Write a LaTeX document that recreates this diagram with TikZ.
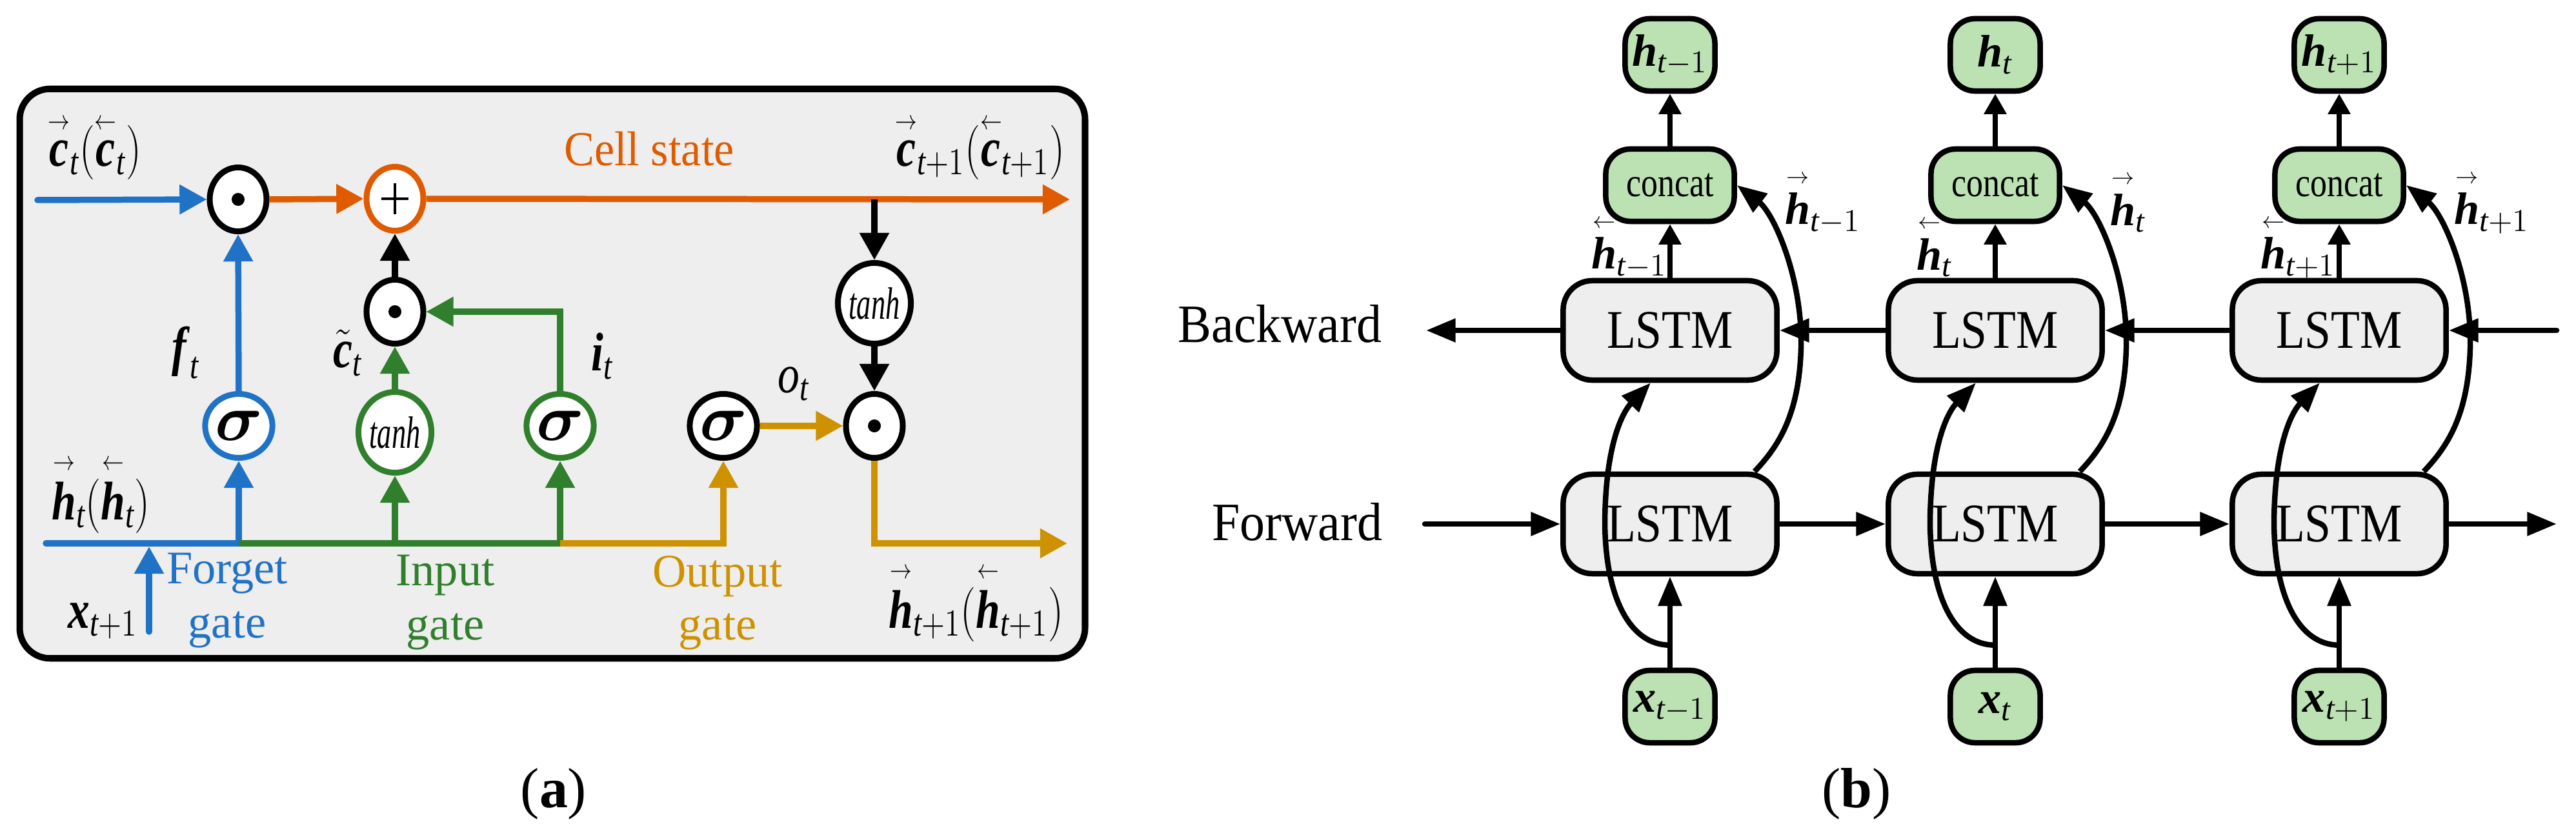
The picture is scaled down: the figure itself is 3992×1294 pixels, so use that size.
\RequirePackage{fix-cm}
\documentclass[tikz,border=0pt]{standalone}
\usepackage{amsmath}
\usepackage{fontspec}
\setmainfont{Liberation Serif}
\usetikzlibrary{arrows.meta,shapes.geometric,calc}
\definecolor{cblue}{HTML}{2072C6}
\definecolor{corange}{HTML}{E05B00}
\definecolor{cgreen}{HTML}{2F7F2C}
\definecolor{cgold}{HTML}{CE9200}
\definecolor{cgray}{HTML}{EEEEEE}
\definecolor{cgreenf}{HTML}{BCE2B4}
\newcommand{\ti}[1]{\textit{#1}}
\newcommand{\bi}[1]{\textbf{\textit{#1}}}
\newcommand{\rv}[1]{\overset{\scriptscriptstyle\rightarrow}{#1}}
\newcommand{\lv}[1]{\overset{\scriptscriptstyle\leftarrow}{#1}}
\newcommand{\nar}[1]{\scalebox{0.8}[1]{#1}}
\newcommand{\sig}{{\fontsize{29}{31}\selectfont$\boldsymbol{\sigma}$}}
\newcommand{\tanhtxt}{\scalebox{0.63}[1]{\fontsize{20}{24}\selectfont\textit{tanh}}}
\tikzset{
  ln/.style={line width=2.7pt},
  arrA/.style={-{Triangle[length=12pt,width=12.5pt]}},
  gnode/.style={ellipse, draw, line width=2.56pt, fill=white, minimum width=0.88cm, minimum height=0.99cm, inner sep=0pt},
  tnode/.style={gnode, minimum width=1.13cm, minimum height=1.25cm},
  lbl/.style={font=\fontsize{24}{29}\selectfont, inner sep=0pt},
  gatelbl/.style={font=\fontsize{20.6}{24}\selectfont, inner sep=0pt},
  bl/.style={line width=2.42pt},
  arrB/.style={-{Triangle[length=13pt,width=10pt]}},
  arrS/.style={-{Triangle[length=9pt,width=9.5pt]}},
  lstm/.style={draw, line width=2.42pt, fill=cgray, rounded corners=0.45cm, minimum width=3.31cm, minimum height=1.54cm, font=\fontsize{24}{28}\selectfont, inner sep=0pt},
  gbox/.style={draw, line width=2.42pt, fill=cgreenf, rounded corners=0.38cm, minimum width=1.39cm, minimum height=1.12cm, inner sep=0pt, font=\fontsize{20}{24}\selectfont},
  cbox/.style={gbox, minimum width=1.99cm, font=\fontsize{18}{22}\selectfont},
  blbl/.style={font=\fontsize{20}{24}\selectfont, inner sep=0pt},
}
\begin{document}
\begin{tikzpicture}[x=0.01cm,y=-0.01cm]
\useasboundingbox (0,0) rectangle (3992,1294);

% ---------------- (a) ----------------
\node[draw, line width=2.85pt, fill=cgray, rounded corners=0.47cm, minimum width=16.5cm, minimum height=8.82cm, inner sep=0pt] (cell) at (856,579) {};

\node[gnode] (cf) at (369,309) {};
\node[gnode, draw=corange] (pl) at (612,308) {};
\node[gnode] (ci) at (612,483) {};
\node[gnode, draw=cblue] (sf) at (370,660) {\sig};
\node[tnode, draw=cgreen] (tg) at (612,670) {\tanhtxt};
\node[gnode, draw=cgreen] (si) at (868,660) {\sig};
\node[gnode] (so) at (1121,660) {\sig};
\node[gnode] (co) at (1355,660) {};
\node[tnode] (tc) at (1355,470) {\tanhtxt};

\fill (cf) circle[radius=0.1cm];
\fill (ci) circle[radius=0.1cm];
\fill (co) circle[radius=0.1cm];
\draw[line width=1.4pt] ($(pl)+(-21,0)$) -- ($(pl)+(21,0)$);
\draw[line width=1.4pt] ($(pl)+(0,-24)$) -- ($(pl)+(0,24)$);

\coordinate (cin) at (58,310);
\coordinate (cout) at (1658,309);
\coordinate (hin) at (71,842);
\coordinate (jf) at (370,842);
\coordinate (ji) at (868,842);
\coordinate (hout) at (1654,842);
\coordinate (xin) at (231,979);
\coordinate (xtip) at (231,847);

\draw[ln, cblue, arrA, line cap=round] (cin) -- (cf.west);
\draw[ln, corange, arrA] (cf.east) -- (pl.west);
\draw[ln, corange, arrA] (pl.east) -- (cout);
\draw[ln, arrA] (ci.north) -- (pl.south);
\draw[ln, cblue, line cap=round] (hin) -- (jf);
\draw[ln, cblue, arrA] (jf) -- (sf.south);
\draw[ln, cblue, arrA] (sf.north) -- (cf.south);
\draw[ln, cblue, arrA, line cap=round] (xin) -- (xtip);
\draw[ln, cgreen] (jf) -- (ji);
\draw[ln, cgreen, arrA] (tg.south |- jf) -- (tg.south);
\draw[ln, cgreen, arrA] (tg.north) -- (ci.south);
\draw[ln, cgreen, arrA] (ji) -- (si.south);
\draw[ln, cgreen, arrA] (si.north) |- (ci.east);
\draw[ln, cgold, arrA] (ji) -| (so.south);
\draw[ln, cgold, arrA] (so.east) -- (co.west);
\draw[ln, cgold, arrA] (co.south) |- (hout);
\draw[ln, arrA] (tc.north |- cout) -- (tc.north);
\draw[ln, arrA] (tc.south) -- (co.north);

\node[gatelbl, corange, anchor=base, font=\fontsize{21.5}{24}\selectfont] (cs) at (1006,257) {\scalebox{0.93}[1]{Cell state}};
\node[lbl, anchor=base west] (lc) at (74,258) {\nar{$\rv{\bi{c}}_{\ti{t}}(\lv{\bi{c}}_{\ti{t}})$}};
\node[lbl, anchor=base west] (lc1) at (1387,258) {\nar{$\rv{\bi{c}}_{\ti{t}+1}(\lv{\bi{c}}_{\ti{t}+1})$}};
\node[lbl, anchor=base west] (lh) at (80,805) {\nar{$\rv{\bi{h}}_{\ti{t}}(\lv{\bi{h}}_{\ti{t}})$}};
\node[lbl, anchor=base west] (lx) at (105,973) {\nar{$\bi{x}_{\ti{t}+1}$}};
\node[lbl, anchor=base west] (lh1) at (1377,973) {\nar{$\rv{\bi{h}}_{\ti{t}+1}(\lv{\bi{h}}_{\ti{t}+1})$}};
\node[lbl] (lf) at (288,547) {\nar{$\bi{f}_{\ti{t}}$}};
\node[lbl] (lct) at (539,547) {\nar{$\tilde{\bi{c}}_{\ti{t}}$}};
\node[lbl] (li) at (933,552) {\nar{$\bi{i}_{\ti{t}}$}};
\node[lbl] (lo) at (1230,595) {\nar{$\ti{o}_{\ti{t}}$}};

\node[gatelbl, cblue, anchor=base] (fg1) at (352,904) {Forget};
\node[gatelbl, cblue, anchor=base] (fg2) at (352,988) {gate};
\node[gatelbl, cgreen, anchor=base] (ig1) at (690,907) {Input};
\node[gatelbl, cgreen, anchor=base] (ig2) at (690,991) {gate};
\node[gatelbl, cgold, anchor=base] (og1) at (1112,909) {Output};
\node[gatelbl, cgold, anchor=base] (og2) at (1112,991) {gate};

\node[font=\fontsize{25}{30}\selectfont, inner sep=0pt] (capa) at (858,1230) {(\textbf{a})};

% ---------------- (b) ----------------
\foreach \i/\cx/\s in {1/2588/{\ti{t}-1}, 2/3092/{\ti{t}}, 3/3625/{\ti{t}+1}} {
  \node[gbox] (h\i) at (\cx,85) {$\bi{h}_{\s}$};
  \node[cbox] (c\i) at (\cx,287) {\scalebox{0.82}[1]{concat}};
  \node[lstm] (b\i) at (\cx,512) {\scalebox{0.87}[1]{LSTM}};
  \node[lstm] (f\i) at (\cx,812) {\scalebox{0.87}[1]{LSTM}};
  \node[gbox] (x\i) at (\cx,1095) {$\bi{x}_{\s}$};
  \node[blbl, anchor=west] (lb\i) at (\cx-122,382) {$\lv{\bi{h}}_{\s}$};
  \node[blbl, anchor=west] (lf\i) at (\cx+178,313) {$\rv{\bi{h}}_{\s}$};
  \draw[bl, arrS] (b\i.north) -- (c\i.south);
  \draw[bl, arrS] (c\i.north) -- (h\i.south);
  \draw[bl, arrB] (x\i.north) -- (f\i.south);
}

\coordinate (bR) at (3962,512);
\coordinate (bL) at (2210,512);
\coordinate (fL) at (2208,812);
\coordinate (fR) at (3962,812);
\draw[bl, arrB, line cap=round] (bR) -- (b3.east);
\draw[bl, arrB] (b3.west) -- (b2.east);
\draw[bl, arrB] (b2.west) -- (b1.east);
\draw[bl, arrB] (b1.west) -- (bL);
\draw[bl, arrB, line cap=round] (fL) -- (f1.west);
\draw[bl, arrB] (f1.east) -- (f2.west);
\draw[bl, arrB] (f2.east) -- (f3.west);
\draw[bl, arrB] (f3.east) -- (fR);

\foreach \i/\cx in {1/2588, 2/3092, 3/3625} {
  \draw[bl, arrB] ($(x\i.north)+(0,-35)$) .. controls (\cx-60,1000) and (\cx-100,930) .. (\cx-101,810)
     .. controls (\cx-100,680) and (\cx-70,635) .. ($(b\i.south)+(-30,0)$);
  \draw[bl, arrB] ($(f\i.north)+(131,0)$) .. controls (\cx+170,690) and (\cx+200,640) .. (\cx+203,540)
     .. controls (\cx+206,430) and (\cx+160,330) .. (c\i.east);
}

\node[font=\fontsize{23.8}{28}\selectfont, inner sep=0pt, anchor=base east] (bw) at (2142,530) {\scalebox{0.93}[1]{Backward}};
\node[font=\fontsize{23.8}{28}\selectfont, inner sep=0pt, anchor=base east] (fw) at (2143,837) {\scalebox{0.93}[1]{Forward}};

\node[font=\fontsize{25}{30}\selectfont, inner sep=0pt] (capb) at (2877,1230) {(\textbf{b})};
\end{tikzpicture}
\end{document}
